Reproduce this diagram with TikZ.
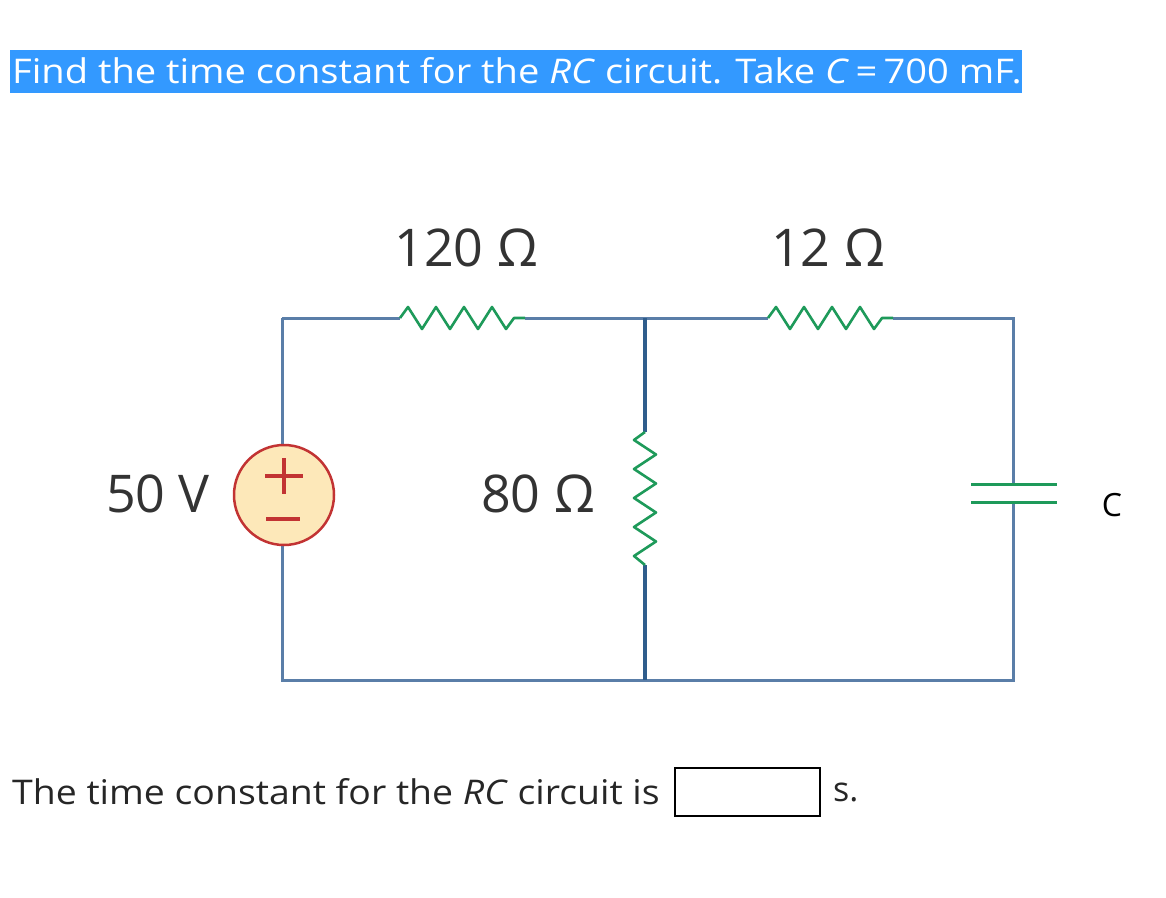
\documentclass[tikz,border=0pt]{standalone}
\usepackage{fontspec}
\setmainfont{Open Sans}
\begin{document}
\begin{tikzpicture}[x=1pt,y=-1pt,
  wire/.style={draw=wireblue,line width=3pt},
  res/.style={draw=resgreen,line width=2.6pt,line join=round},
  lbl/.style={font=\fontsize{52}{56}\selectfont,text=black!80}]
\definecolor{wireblue}{HTML}{5A7EA8}
\definecolor{darkwire}{HTML}{2F5D8C}
\definecolor{resgreen}{HTML}{1E9A5A}
\definecolor{hl}{HTML}{3399FF}
\useasboundingbox (0,0) rectangle (1166,897);
\fill[hl] (10,50) rectangle (1022,93);
\node[anchor=west,text=white,font=\fontsize{34}{36}\selectfont,inner sep=0] (title) at (12,71) {\scalebox{1.12}[1]{Find the time constant for the \textit{RC} circuit. Take \textit{C}\,=\,700 mF.}};
\coordinate (tl) at (282,318); \coordinate (tm) at (645,318); \coordinate (tr) at (1013,318);
\coordinate (bl) at (282,680); \coordinate (bm) at (645,680); \coordinate (br) at (1013,680);
\coordinate (r1a) at (400,318); \coordinate (r1b) at (525,318);
\coordinate (r2a) at (768,318); \coordinate (r2b) at (893,318);
\coordinate (r3a) at (645,432); \coordinate (r3b) at (645,565);
\coordinate (c1) at (1013,484); \coordinate (c2) at (1013,502);
\draw[wire] (tl) -- (r1a) (r1b) -- (r2a) (r2b) -- (tr) -- (c1) (c2) -- (br) -- (bl) -- (282,445) (282,545) -- (tl);
\draw[draw=darkwire,line width=3.5pt] (tm) -- (r3a) (r3b) -- (bm);
\draw[res] (r1a) -- ++(8,-11) -- ++(14,22) -- ++(14,-22) -- ++(14,22) -- ++(14,-22) -- ++(14,22) -- ++(14,-22) -- ++(14,22) -- ++(8,-11) -- (r1b);
\draw[res] (r2a) -- ++(8,-11) -- ++(14,22) -- ++(14,-22) -- ++(14,22) -- ++(14,-22) -- ++(14,22) -- ++(14,-22) -- ++(14,22) -- ++(8,-11) -- (r2b);
\draw[res] (r3a) -- ++(-11,8) -- ++(22,14.5) -- ++(-22,14.5) -- ++(22,14.5) -- ++(-22,14.5) -- ++(22,14.5) -- ++(-22,14.5) -- ++(22,14.5) -- ++(-22,14.5) -- (r3b);
\draw[draw=resgreen,line width=3pt] (971,484) -- (1057,484) (971,502) -- (1057,502);
\node[circle,draw=red!70!black!80,fill=yellow!35!orange!25,line width=2.5pt,minimum size=100pt,inner sep=0] (src) at (284,495) {};
\draw[draw=red!70!black!80,line width=3.5pt] (265,476) -- (303,476) (284,458) -- (284,494) (266,519) -- (300,519);
\node[lbl] (l1) at (466,248) {120 Ω};
\node[lbl] (l2) at (828,248) {12 Ω};
\node[lbl] (l3) at (538,494) {80 Ω};
\node[lbl] (l4) at (158,494) {50 V};
\node[font=\fontsize{32}{34}\selectfont] (lc) at (1112,505) {C};
\node[anchor=west,font=\fontsize{34}{36}\selectfont,inner sep=0,text=black!85] (q) at (12,792) {\scalebox{1.1}[1]{The time constant for the \textit{RC} circuit is}};
\draw[line width=2pt] (675,768) rectangle (820,816);
\node[anchor=west,font=\fontsize{34}{36}\selectfont,inner sep=0,text=black!85] (s) at (833,792) {s.};
\end{tikzpicture}
\end{document}
